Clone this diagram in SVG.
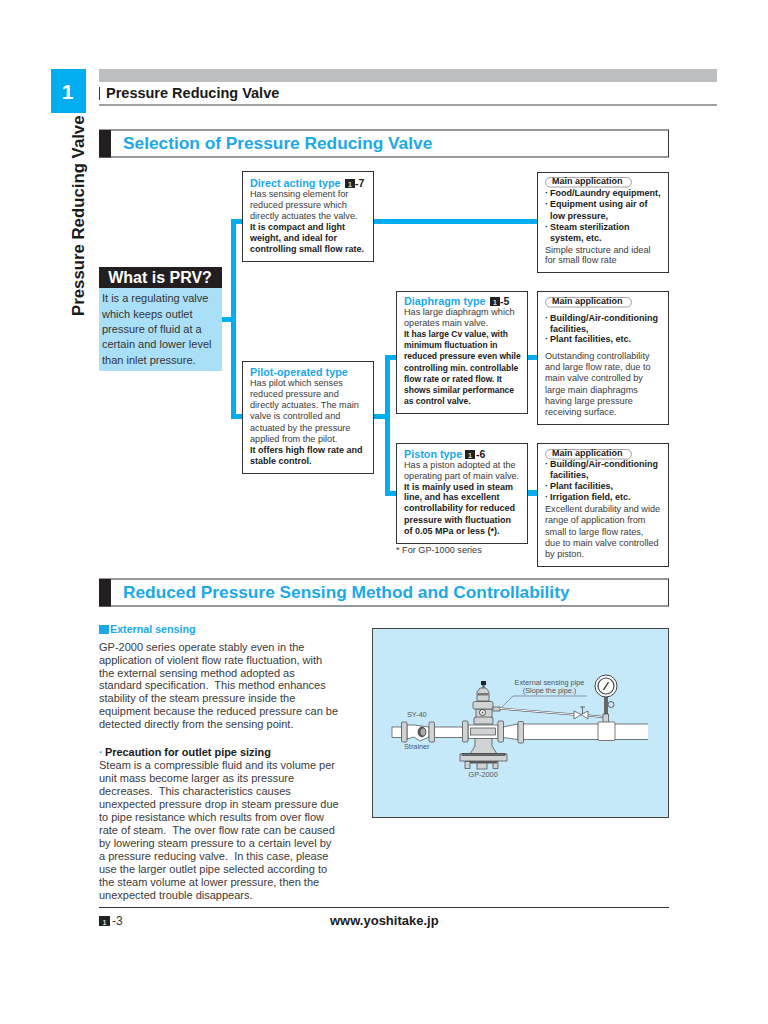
<svg xmlns="http://www.w3.org/2000/svg" width="768" height="1024" viewBox="0 0 768 1024">
<style>
text{font-family:"Liberation Sans",Arial,sans-serif}
.b{font-size:9.15px;fill:#3a3a3a}
.s{font-size:9px;font-weight:700;fill:#1a1a1a}
.s2{font-size:8.5px;font-weight:700;fill:#1a1a1a}
.t{font-size:10.8px;font-weight:700;fill:#1ba9e6}
.n{font-size:10.5px;font-weight:700;fill:#1a1a1a}
.box{fill:#fff;stroke:#333;stroke-width:1}
.conn{fill:#00aeef}
.sec{font-size:17.3px;font-weight:700;fill:#1ba9e6}
.p{font-size:11px;fill:#3a3a3a;white-space:pre}
.w{font-size:11px;fill:#333}
.sq{fill:#222}
.one{font-size:7px;font-weight:700;fill:#ddd}
.cap{fill:none;stroke:#666;stroke-width:.6}
.il{font-size:7.3px;fill:#555}
.m{fill:#fff;stroke:#444;stroke-width:.7}
.g{fill:#cfd3d4;stroke:#444;stroke-width:.7}
.d{fill:#6d7173;stroke:#333;stroke-width:.6}
</style>

<g id="page-header">
<rect x="51" y="69" width="35" height="44" fill="#00aeef"/>
<text x="67.500" y="99" text-anchor="middle" font-size="21" font-weight="700" fill="#fff">1</text>
<rect x="99" y="69" width="618" height="13" fill="#bcbec0"/>
<rect x="99" y="87" width="1" height="13" fill="#333"/>
<text x="106" y="98" font-size="14.500" font-weight="700" fill="#1a1a1a">Pressure Reducing Valve</text>
<rect x="99" y="104.500" width="618" height="1" fill="#444"/>
<text transform="translate(83.500 316) rotate(-90)" font-size="16.800" font-weight="700" fill="#1a1a1a">Pressure Reducing Valve</text>
</g>

<g id="section-1">
<rect x="99.500" y="130" width="569" height="27" fill="#fff" stroke="#333"/>
<rect x="99" y="130" width="12" height="27.500" fill="#231f20"/>
<text class="sec" x="123" y="149">Selection of Pressure Reducing Valve</text>
</g>

<g id="connectors">
<rect class="conn" x="231" y="219" width="5" height="200"/>
<rect class="conn" x="231" y="219" width="11" height="5"/>
<rect class="conn" x="222" y="317" width="10" height="5"/>
<rect class="conn" x="231" y="414" width="11" height="5"/>
<rect class="conn" x="374" y="219" width="163" height="5"/>
<rect class="conn" x="374" y="414" width="12" height="5"/>
<rect class="conn" x="385" y="355" width="5" height="141"/>
<rect class="conn" x="385" y="355" width="11" height="5"/>
<rect class="conn" x="385" y="491" width="11" height="5"/>
<rect class="conn" x="527" y="355" width="10" height="5"/>
<rect class="conn" x="527" y="490" width="10" height="6"/>
</g>

<g id="what-is-prv">
<rect x="99" y="267" width="123" height="21" fill="#231f20"/>
<text x="160" y="283" text-anchor="middle" font-size="16" font-weight="700" fill="#fff">What is PRV?</text>
<rect x="99" y="288" width="123" height="83" fill="#a9e0f7"/>
<text class="w" x="102" y="302">It is a regulating valve</text>
<text class="w" x="102" y="318">which keeps outlet</text>
<text class="w" x="102" y="333">pressure of fluid at a</text>
<text class="w" x="102" y="348">certain and lower level</text>
<text class="w" x="102" y="364">than inlet pressure.</text>
</g>

<g id="direct-acting">
<rect class="box" x="242.500" y="171.500" width="131" height="90"/>
<text class="t" x="250" y="187">Direct acting type</text>
<rect class="sq" x="345" y="179" width="10" height="9"/><text class="one" x="350" y="186.500" text-anchor="middle">1</text>
<text class="n" x="355" y="187">-7</text>
<text class="b" x="250" y="197">Has sensing element for</text>
<text class="b" x="250" y="208">reduced pressure which</text>
<text class="b" x="250" y="219">directly actuates the valve.</text>
<text class="s" x="250" y="230">It is compact and light</text>
<text class="s" x="250" y="241">weight, and ideal for</text>
<text class="s" x="250" y="252">controlling small flow rate.</text>
</g>

<g id="pilot-operated">
<rect class="box" x="242.500" y="361.500" width="131" height="112"/>
<text class="t" x="250" y="376">Pilot-operated type</text>
<text class="b" x="250" y="386">Has pilot which senses</text>
<text class="b" x="250" y="397">reduced pressure and</text>
<text class="b" x="250" y="408">directly actuates. The main</text>
<text class="b" x="250" y="419">valve is controlled and</text>
<text class="b" x="250" y="431">actuated by the pressure</text>
<text class="b" x="250" y="442">applied from the pilot.</text>
<text class="s" x="250" y="453">It offers high flow rate and</text>
<text class="s" x="250" y="464">stable control.</text>
</g>

<g id="diaphragm">
<rect class="box" x="396.500" y="291.500" width="131" height="122"/>
<text class="t" x="404" y="305">Diaphragm type</text>
<rect class="sq" x="490" y="297" width="10" height="9"/><text class="one" x="495" y="304.500" text-anchor="middle">1</text>
<text class="n" x="500" y="305">-5</text>
<text class="b" x="404" y="315">Has large diaphragm which</text>
<text class="b" x="404" y="326">operates main valve.</text>
<text class="s2" x="404" y="337">It has large Cv value, with</text>
<text class="s2" x="404" y="348">minimum fluctuation in</text>
<text class="s2" x="404" y="359">reduced pressure even while</text>
<text class="s2" x="404" y="371">controlling min. controllable</text>
<text class="s2" x="404" y="382">flow rate or rated flow. It</text>
<text class="s2" x="404" y="393">shows similar performance</text>
<text class="s2" x="404" y="404">as control valve.</text>
</g>

<g id="piston">
<rect class="box" x="396.500" y="443.500" width="131" height="100"/>
<text class="t" x="404" y="458">Piston type</text>
<rect class="sq" x="465" y="450" width="10" height="9"/><text class="one" x="470" y="457.500" text-anchor="middle">1</text>
<text class="n" x="476" y="458">-6</text>
<text class="b" x="404" y="468">Has a piston adopted at the</text>
<text class="b" x="404" y="479">operating part of main valve.</text>
<text class="s" x="404" y="490">It is mainly used in steam</text>
<text class="s" x="404" y="500">line, and has excellent</text>
<text class="s" x="404" y="511">controllability for reduced</text>
<text class="s" x="404" y="523">pressure with fluctuation</text>
<text class="s" x="404" y="534">of 0.05 MPa or less (*).</text>
<text class="b" x="396" y="553">* For GP-1000 series</text>
</g>

<g id="app-1">
<rect class="box" x="537.500" y="172.500" width="131" height="100"/>
<rect class="cap" x="545.500" y="177.500" width="86" height="9.500" rx="4.700"/>
<text class="s" x="552" y="184">Main application</text>
<text class="s" x="545" y="196">·</text><text class="s" x="550" y="196">Food/Laundry equipment,</text>
<text class="s" x="545" y="207">·</text><text class="s" x="550" y="207">Equipment using air of</text>
<text class="s" x="550" y="219">low pressure,</text>
<text class="s" x="545" y="230">·</text><text class="s" x="550" y="230">Steam sterilization</text>
<text class="s" x="550" y="241">system, etc.</text>
<text class="b" x="545" y="253">Simple structure and ideal</text>
<text class="b" x="545" y="263">for small flow rate</text>
</g>

<g id="app-2">
<rect class="box" x="537.500" y="291.500" width="131" height="133"/>
<rect class="cap" x="545.500" y="297.500" width="86" height="9.500" rx="4.700"/>
<text class="s" x="552" y="304">Main application</text>
<text class="s" x="545" y="321">·</text><text class="s" x="550" y="321">Building/Air-conditioning</text>
<text class="s" x="550" y="332">facilities,</text>
<text class="s" x="545" y="342">·</text><text class="s" x="550" y="342">Plant facilities, etc.</text>
<text class="b" x="545" y="359">Outstanding controllability</text>
<text class="b" x="545" y="370">and large flow rate, due to</text>
<text class="b" x="545" y="381">main valve controlled by</text>
<text class="b" x="545" y="393">large main diaphragms</text>
<text class="b" x="545" y="404">having large pressure</text>
<text class="b" x="545" y="415">receiving surface.</text>
</g>

<g id="app-3">
<rect class="box" x="537.500" y="443.500" width="131" height="123"/>
<rect class="cap" x="545.500" y="449.500" width="86" height="9.500" rx="4.700"/>
<text class="s" x="552" y="456">Main application</text>
<text class="s" x="545" y="467">·</text><text class="s" x="550" y="467">Building/Air-conditioning</text>
<text class="s" x="550" y="478">facilities,</text>
<text class="s" x="545" y="489">·</text><text class="s" x="550" y="489">Plant facilities,</text>
<text class="s" x="545" y="500">·</text><text class="s" x="550" y="500">Irrigation field, etc.</text>
<text class="b" x="545" y="512">Excellent durability and wide</text>
<text class="b" x="545" y="523">range of application from</text>
<text class="b" x="545" y="535">small to large flow rates,</text>
<text class="b" x="545" y="546">due to main valve controlled</text>
<text class="b" x="545" y="557">by piston.</text>
</g>

<g id="section-2">
<rect x="99.500" y="579" width="569" height="27" fill="#fff" stroke="#333"/>
<rect x="99" y="579" width="12" height="27.500" fill="#231f20"/>
<text class="sec" x="123" y="598">Reduced Pressure Sensing Method and Controllability</text>
</g>

<g id="external-sensing-text">
<rect x="99" y="625" width="10" height="9" fill="#1ba9e6"/>
<text x="110" y="633" font-size="10.700" font-weight="700" fill="#1ba9e6">External sensing</text>
<text class="p" x="99" y="651">GP-2000 series operate stably even in the</text>
<text class="p" x="99" y="664">application of violent flow rate fluctuation, with</text>
<text class="p" x="99" y="677">the external sensing method adopted as</text>
<text class="p" x="99" y="689">standard specification.  This method enhances</text>
<text class="p" x="99" y="702">stability of the steam pressure inside the</text>
<text class="p" x="99" y="715">equipment because the reduced pressure can be</text>
<text class="p" x="99" y="728">detected directly from the sensing point.</text>
<text x="99" y="756" font-size="10.900" font-weight="700" fill="#1ba9e6">·</text>
<text x="105" y="756" font-size="10.900" font-weight="700" fill="#1a1a1a">Precaution for outlet pipe sizing</text>
<text class="p" x="99" y="769">Steam is a compressible fluid and its volume per</text>
<text class="p" x="99" y="782">unit mass become larger as its pressure</text>
<text class="p" x="99" y="795">decreases.  This characteristics causes</text>
<text class="p" x="99" y="808">unexpected pressure drop in steam pressure due</text>
<text class="p" x="99" y="821">to pipe resistance which results from over flow</text>
<text class="p" x="99" y="834">rate of steam.  The over flow rate can be caused</text>
<text class="p" x="99" y="847">by lowering steam pressure to a certain level by</text>
<text class="p" x="99" y="860">a pressure reducing valve.  In this case, please</text>
<text class="p" x="99" y="873">use the larger outlet pipe selected according to</text>
<text class="p" x="99" y="886">the steam volume at lower pressure, then the</text>
<text class="p" x="99" y="899">unexpected trouble disappears.</text>
</g>

<g id="illustration">
<rect x="372.500" y="628.500" width="296" height="189" fill="#c5e9f9" stroke="#444"/>
<rect class="m" x="392" y="727" width="10" height="10.500"/>
<rect class="m" x="434" y="727" width="29" height="10.500"/>
<path class="m" d="M503 727L518 724V739.500L503 737.500Z"/>
<rect x="523" y="724" width="125" height="15" fill="#fff"/>
<path d="M523 724H648M523 739.500H648" stroke="#444" stroke-width=".7" fill="none"/>
<path class="m" d="M407 725L414 725L429 727V737L420 741L414 737L407 739Z"/>
<ellipse cx="422" cy="732" rx="4" ry="5" fill="#555" stroke="#333" stroke-width=".6"/>
<ellipse cx="423" cy="732" rx="2.500" ry="3.500" fill="#aaa"/>
<rect class="g" x="401.500" y="722" width="5.500" height="20" rx="1"/>
<rect class="g" x="429" y="722" width="5.500" height="20" rx="1"/>
<path class="g" d="M475 738H492V746L497 754H470L475 746Z"/>
<rect class="g" x="460" y="754" width="47" height="7"/>
<rect class="d" x="462" y="753.500" width="43" height="2"/>
<rect class="g" x="465" y="761.500" width="5" height="7"/>
<rect class="g" x="477" y="761.500" width="10" height="7.500"/>
<rect class="g" x="493" y="761.500" width="5" height="7"/>
<rect x="470" y="761" width="27" height="2.500" fill="#555"/>
<path class="g" d="M474 724V718L478 716H489L493 718V724Z"/>
<rect class="m" x="468" y="725" width="30" height="13.500"/>
<rect class="g" x="470.500" y="728" width="25" height="7"/>
<rect class="g" x="462.500" y="721" width="5.500" height="21" rx="1"/>
<rect class="g" x="498" y="721" width="5.500" height="21" rx="1"/>
<rect class="g" x="518" y="721.500" width="5.500" height="21.500" rx="1"/>
<rect class="g" x="476" y="709" width="16" height="8"/>
<circle cx="482.500" cy="712.500" r="3" fill="#fff" stroke="#333" stroke-width=".9"/>
<circle cx="482.500" cy="712.500" r="1" fill="#555"/>
<rect class="g" x="473" y="701.500" width="20" height="7.500" rx="1.500"/>
<path class="g" d="M477 701V692L480 688H486L489 692V701Z"/>
<rect x="477.500" y="693" width="11" height="2.500" fill="#777"/>
<rect x="481" y="681" width="5" height="4" fill="#222"/>
<rect x="482.500" y="685" width="2" height="3" fill="#555"/>
<rect class="g" x="493" y="707" width="7" height="4"/>
<path d="M502 707L513 696H587" fill="none" stroke="#444" stroke-width=".5"/>
<path d="M500 708.500L574 714.500" stroke="#444" stroke-width="2" fill="none"/>
<path d="M500 708.500L574 714.500" stroke="#fff" stroke-width="1" fill="none"/>
<path d="M588 715.500L603 717" stroke="#444" stroke-width="2.200" fill="none"/>
<path d="M588 715.500L603 717" stroke="#eee" stroke-width="1.200" fill="none"/>
<path class="m" d="M574 711L581 714.500L574 719ZM588 711L581 714.500L588 719Z"/>
<path d="M582.500 714V707M580 707H585" stroke="#333" stroke-width=".7" fill="none"/>
<circle cx="611" cy="704.500" r="3" fill="none" stroke="#444" stroke-width=".8"/>
<rect x="604" y="697" width="4" height="17" fill="#666"/>
<path class="g" d="M603 714H608.500V723H603Z"/>
<rect class="m" x="598" y="722" width="17" height="18.500" rx="1"/>
<circle cx="606" cy="686" r="11" fill="#fff" stroke="#444" stroke-width="1"/>
<circle cx="606" cy="686" r="8" fill="#fff" stroke="#444" stroke-width="1.200"/>
<path d="M603.500 690L608.500 682" stroke="#333" stroke-width="1.400"/>
<text class="il" x="549.500" y="685" text-anchor="middle">External sensing pipe</text>
<text class="il" x="549.500" y="692.500" text-anchor="middle">(Slope the pipe.)</text>
<text class="il" x="407" y="717">SY-40</text>
<text class="il" x="404" y="749">Strainer</text>
<text class="il" x="468.500" y="777">GP-2000</text>
</g>

<g id="page-footer">
<rect x="99" y="907" width="570" height="1" fill="#333"/>
<rect class="sq" x="99" y="916" width="11" height="10"/><text class="one" x="104.500" y="924.500" text-anchor="middle">1</text>
<text x="112" y="925" font-size="12" fill="#333">-3</text>
<text x="330" y="925" font-size="13" font-weight="700" fill="#1a1a1a">www.yoshitake.jp</text>
</g>
</svg>
